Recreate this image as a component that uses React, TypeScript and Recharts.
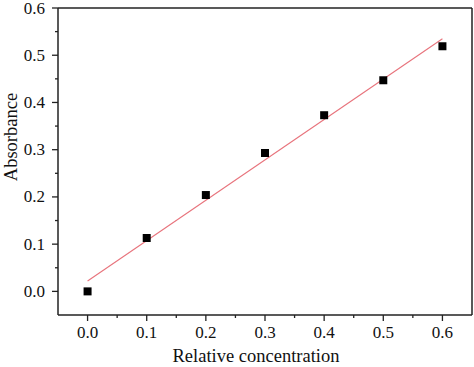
import { ScatterChart, Scatter, XAxis, YAxis, ReferenceLine } from 'recharts';

const concentration = [0, 0.1, 0.2, 0.3, 0.4, 0.5, 0.6];
const absorbance = [0.0, 0.113, 0.204, 0.293, 0.373, 0.447, 0.519];
const fitX = [0, 0.6];
const fitY = [0.022, 0.535];
const xTicks = [-0.05, 0, 0.05, 0.1, 0.15, 0.2, 0.25, 0.3, 0.35, 0.4, 0.45, 0.5, 0.55, 0.6, 0.65];
const yTicks = [-0.05, 0, 0.05, 0.1, 0.15, 0.2, 0.25, 0.3, 0.35, 0.4, 0.45, 0.5, 0.55, 0.6];

const points = concentration.map((x, i) => ({ x, y: absorbance[i] }));
const fitLine = fitX.map((x, i) => ({ x, y: fitY[i] }));

const FONT = '"Liberation Serif", "Times New Roman", serif';
const AXIS = '#222';

const isMajor = (v: number) => Math.round(v * 100) % 10 === 0;

const XTick = ({ x, y, payload }: any) => {
  const v = payload.value;
  const major = isMajor(v);
  if (v < -0.01 || v > 0.61) return null;
  return (
    <g>
      <line x1={x} x2={x} y1={y} y2={y + (major ? 6 : 3)} stroke={AXIS} strokeWidth={1.3} />
      {major && (
        <text x={x} y={y + 23} textAnchor="middle" fontSize={17} fontFamily={FONT} fill="#111">
          {v.toFixed(1)}
        </text>
      )}
    </g>
  );
};

const YTick = ({ x, y, payload }: any) => {
  const v = payload.value;
  const major = isMajor(v);
  if (v < -0.01) return null;
  return (
    <g>
      <line x1={x} x2={x - (major ? 6 : 3)} y1={y} y2={y} stroke={AXIS} strokeWidth={1.3} />
      {major && (
        <text x={x - 13} y={y + 5.5} textAnchor="end" fontSize={17} fontFamily={FONT} fill="#111">
          {v.toFixed(1)}
        </text>
      )}
    </g>
  );
};

export default function App() {
  return (
    <div style={{ position: 'absolute', left: 0, top: 0, background: '#fff' }}>
      <ScatterChart width={474} height={367} margin={{ top: 8, right: 2, bottom: 0, left: 0 }}>
        <XAxis
          type="number"
          dataKey="x"
          domain={[-0.05, 0.65]}
          ticks={xTicks}
          interval={0}
          tick={<XTick />}
          tickLine={false}
          tickSize={0}
          tickMargin={0}
          height={52}
          axisLine={{ stroke: AXIS, strokeWidth: 1.5 }}
          allowDataOverflow
          label={() => (
            <text x={256} y={362} textAnchor="middle" fontSize={18.5} fontFamily={FONT} fill="#111">
              Relative concentration
            </text>
          )}
        />
        <YAxis
          type="number"
          dataKey="y"
          domain={[-0.05, 0.6]}
          ticks={yTicks}
          interval={0}
          tick={<YTick />}
          tickLine={false}
          tickSize={0}
          tickMargin={0}
          width={58}
          axisLine={{ stroke: AXIS, strokeWidth: 1.5 }}
          allowDataOverflow
          label={() => (
            <text
              x={137}
              y={16.5}
              textAnchor="middle"
              fontSize={18.5}
              fontFamily={FONT}
              fill="#111"
              transform="translate(0 274) rotate(-90 0 0)"
            >
              Absorbance
            </text>
          )}
        />
        <ReferenceLine y={0.6} stroke={AXIS} strokeWidth={1.5} />
        <ReferenceLine x={0.65} stroke={AXIS} strokeWidth={1.5} />
        <Scatter
          data={fitLine}
          line={{ stroke: '#e8737c', strokeWidth: 1.1 }}
          shape={() => <g />}
          isAnimationActive={false}
        />
        <Scatter data={points} fill="#000" shape="square" isAnimationActive={false} />
      </ScatterChart>
    </div>
  );
}
